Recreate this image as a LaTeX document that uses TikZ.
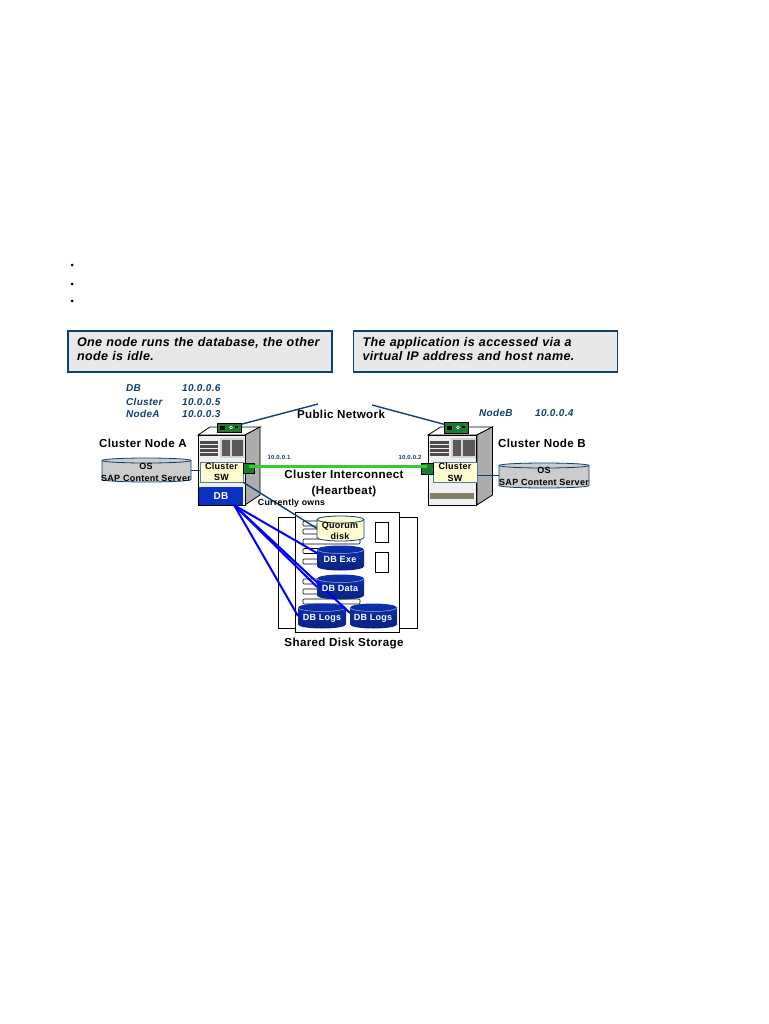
\documentclass[tikz,border=0pt]{standalone}
\usepackage{fontspec}
\setmainfont[LetterSpace=3]{Liberation Sans}
\usetikzlibrary{shapes,arrows,positioning}
\definecolor{navy}{HTML}{0F3F70}
\definecolor{notegray}{HTML}{E8E8E8}
\definecolor{swcream}{HTML}{FFFBD0}
\definecolor{dbblue}{HTML}{0A32C0}
\definecolor{nicgreen}{HTML}{1E7A2E}
\definecolor{disktop}{HTML}{0A30AC}
\definecolor{diskmid}{HTML}{1448D0}
\definecolor{diskbot}{HTML}{0A2280}
\definecolor{linkgreen}{HTML}{33CC33}
\tikzset{note/.style={rectangle, draw=navy, line width=1.2pt, fill=notegray, text width=246pt, minimum width=264pt, minimum height=41pt, inner sep=0pt, align=left, font=\bfseries\itshape\fontsize{12.55}{14}\selectfont}}
\tikzset{title/.style={font=\bfseries\fontsize{11.6}{16}\selectfont, align=center, inner sep=0pt}}
\tikzset{addr/.style={anchor=west, text=navy, inner sep=0pt, font=\bfseries\itshape\fontsize{10}{12}\selectfont}}
\tikzset{ipsmall/.style={inner sep=0pt, text=navy, font=\bfseries\fontsize{6}{7}\selectfont}}
\tikzset{swbox/.style={rectangle, draw=navy!70, line width=0.8pt, fill=swcream, inner sep=0pt, minimum width=43pt, minimum height=20pt, align=center, font=\bfseries\fontsize{9}{11.5}\selectfont}}
\tikzset{nic/.style={rectangle, draw=black, fill=nicgreen, inner sep=0pt}}
\tikzset{disk/.style={rectangle, inner sep=0pt, outer sep=0pt, minimum width=47pt, minimum height=25pt}}
\tikzset{disktext/.style={inner sep=0pt, align=center, font=\bfseries\fontsize{9}{11}\selectfont}}
\tikzset{ostext/.style={disktext, font=\bfseries\fontsize{9}{12}\selectfont}}
\tikzset{dbcan/.style={top color=disktop, middle color=diskmid, bottom color=diskbot}}
\tikzset{quorumcan/.style={fill=swcream, draw=navy, line width=0.8pt}}
\tikzset{oscan/.style={fill=gray!40, draw=navy, line width=0.8pt}}
\tikzset{slot/.style={rectangle, draw=black, fill=white, rounded corners=1pt, line width=0.6pt, inner sep=0pt, minimum width=57pt, minimum height=5pt}}
\tikzset{tray/.style={rectangle, draw=black, fill=white, line width=0.8pt, inner sep=0pt}}
\tikzset{navyline/.style={draw=navy, line width=1.4pt}}
\tikzset{dbline/.style={draw=blue, line width=2pt}}
% name of the node, half width, height of the end, look of the body, look of the rim
\newcommand{\drawcan}[5]{
    \path[#4] ([yshift=-#3]#1.north west) arc[start angle=180, end angle=0, x radius=#2, y radius=#3]
        -- ([yshift=#3]#1.south east) arc[start angle=0, end angle=-180, x radius=#2, y radius=#3] -- cycle;
    \draw[#5] ([yshift=-#3]#1.north west) arc[start angle=180, end angle=360, x radius=#2, y radius=#3];
}

\begin{document}
\begin{tikzpicture}[x=1pt,y=-1pt]
        \useasboundingbox (0,0) rectangle (768,1024);
        % empty bullets
        \foreach \yy [count=\i] in {265,284,301}
            \node[circle, fill=black, inner sep=0pt, minimum size=3pt] (bullet\i) at (72,\yy) {};

        % notes
        \node[note] (noteA) at (200,351.5) {One node runs the database, the other\\node is idle.\\[-8pt]\mbox{}};
        \node[note] (noteB) at (485.5,351.5) {The application is accessed via a\\virtual IP address and host name.\\[-8pt]\mbox{}};

        % addresses
        \foreach \nm/\ip/\yy in {DB/10.0.0.6/388, Cluster/10.0.0.5/402, NodeA/10.0.0.3/414}{
            \node[addr] (name\nm) at (126,\yy) {\nm};
            \node[addr] (ip\nm) at (182,\yy) {\ip};
        }
        \node[addr] (nameNodeB) at (479,413) {NodeB};
        \node[addr] (ipNodeB) at (535,413) {10.0.0.4};

        % servers
        \foreach \sx/\sc in {0/1,230/1.04}{
        \begin{scope}[shift={(198+\sx,0)},xscale=\sc]
            \draw[fill=white, line width=0.8pt] (0,435) -- (12,427) -- (62,427) -- (47,435) -- cycle;
            \draw[fill=gray!65, line width=0.8pt] (47,435) -- (62,427) -- (62,495) -- (47,505) -- cycle;
            \draw[fill=gray!12, line width=0.8pt] (0,435) rectangle (47,505);
            \foreach \yy in {441,445,449,453}
                \fill[gray!60!black] (2,\yy) rectangle (20,\yy+2.5);
            \fill[gray!35] (22,438) rectangle (46,458);
            \fill[gray!70!black] (24,440) rectangle (32,456);
            \fill[gray!70!black] (34,440) rectangle (45,456);
        \end{scope}}
        \fill[gray!60!black!80!yellow] (430,493) rectangle (474,499);

        % nodes of the servers
        \node[swbox] (swA) at (221.5,472) {Cluster\\SW};
        \node[swbox, minimum width=44pt] (swB) at (455,472.5) {Cluster\\SW};
        \node[rectangle, fill=dbblue, text=white, inner sep=0pt, minimum width=44pt, minimum height=18pt, font=\bfseries\fontsize{10}{12}\selectfont] (dbA) at (221,496) {DB};

        % cards
        \node[nic, minimum width=24pt, minimum height=9.5pt] (nicAtop) at (229,427.5) {};
        \node[nic, minimum width=24pt, minimum height=10.5pt] (nicBtop) at (456,427.5) {};
        \node[nic, minimum width=11pt, minimum height=10pt] (nicAside) at (248.5,468) {};
        \node[nic, minimum width=12pt, minimum height=11pt] (nicBside) at (427,468.5) {};
        \foreach \c in {nicAtop,nicBtop}{
            \fill[black] ([shift={(-9,-2)}]\c.center) rectangle +(5,4);
            \draw[white, line width=0.5pt] ([xshift=2pt]\c.center) circle (1.5pt);
            \fill[black] ([shift={(6,-2)}]\c.center) rectangle +(3,2);
        }

        % titles
        \node[title] (pubnet) at (341,414) {Public Network};
        \node[title] (nodeAtitle) at (143,443) {Cluster Node A};
        \node[title] (nodeBtitle) at (542,443) {Cluster Node B};
        \node[title] (heartbeat) at (344,483) {Cluster Interconnect\\(Heartbeat)};
        \node[title] (storagetitle) at (344,643.5) {Shared Disk Storage};
        \node[ipsmall] (ipA) at (279,457) {10.0.0.1};
        \node[ipsmall] (ipB) at (410,457) {10.0.0.2};

        % os disks
        \node[disk, minimum width=89pt, minimum height=24pt] (osA) at (146.5,470) {};
        \node[disk, minimum width=90pt, minimum height=25pt] (osB) at (544,475.5) {};
        \drawcan{osA}{44.5pt}{2.5pt}{oscan}{navy, line width=0.8pt}
        \drawcan{osB}{45pt}{2.5pt}{oscan}{navy, line width=0.8pt}
        \node[ostext] (osAtext) at (146,472) {OS\\SAP Content Server};
        \node[ostext] (osBtext) at (544,476.5) {OS\\SAP Content Server};

        % storage
        \node[tray, minimum width=139pt, minimum height=111pt] (trayback) at (347.5,572.5) {};
        \node[tray, minimum width=104pt, minimum height=120pt] (tray) at (347,572) {};
        \foreach \yy [count=\i] in {523.5,531.5,541.5,551,561.5,581.5,591.5,601.5}
            \node[slot] (slot\i) at (331.5,\yy) {};
        \node[tray, minimum width=13pt, minimum height=20pt] (spareA) at (381.5,532) {};
        \node[tray, minimum width=13pt, minimum height=20pt] (spareB) at (381.5,562) {};

        \node[disk] (quorum) at (340.5,528.5) {};
        \node[disk] (dbexe) at (340.5,558) {};
        \node[disk] (dbdata) at (340.5,587) {};
        \node[disk, minimum width=48pt] (logsL) at (322,616) {};
        \node[disk] (logsR) at (373.5,616) {};
        \drawcan{quorum}{23.5pt}{3.5pt}{quorumcan}{navy, line width=0.8pt}
        \foreach \c/\rx in {dbexe/23.5pt,dbdata/23.5pt,logsL/24pt,logsR/23.5pt}{
            \drawcan{\c}{\rx}{4pt}{dbcan}{blue!35!white, line width=0.5pt}
        }

        % network and links
        \coordinate (pubL) at (318,404);
        \coordinate (pubR) at (372,405);
        \path[navyline] (nicAtop) -- (pubL);
        \path[navyline] (nicBtop) -- (pubR);
        \path[draw=linkgreen, line width=3pt] ([yshift=1.5pt]nicAside.center) -- ([yshift=1.5pt]nicAside.center -| nicBside.center);
        \path[navyline, line width=1pt] (osA.east) -- (osA.east -| swA.west);
        \path[navyline, line width=1pt] (osB.west) -- (osB.west -| swB.east);
        \path[navyline] (swA.south east) -- (quorum.west);
        \node[inner sep=0pt, font=\bfseries\fontsize{8.8}{10}\selectfont] (owns) at (291.5,503) {Currently owns};

        \coordinate (dbfoot) at ([xshift=-9pt]dbA.south east);
        \path[dbline] (dbfoot) -- ([yshift=5pt]dbexe.west);
        \path[dbline] (dbfoot) -- (dbdata.west);
        \path[dbline] (dbfoot) -- (logsL.west);
        \path[dbline] (dbfoot) -- ([yshift=3pt]logsR.west);

        % disk labels
        \node[disktext] (quorumtext) at (340,530.5) {Quorum\\disk};
        \node[disktext, text=white] (exetext) at (340,559) {DB Exe};
        \node[disktext, text=white] (datatext) at (340,588) {DB Data};
        \node[disktext, text=white] (logsLtext) at (322,618) {DB Logs};
        \node[disktext, text=white] (logsRtext) at (373,618) {DB Logs};
\end{tikzpicture}
\end{document}
